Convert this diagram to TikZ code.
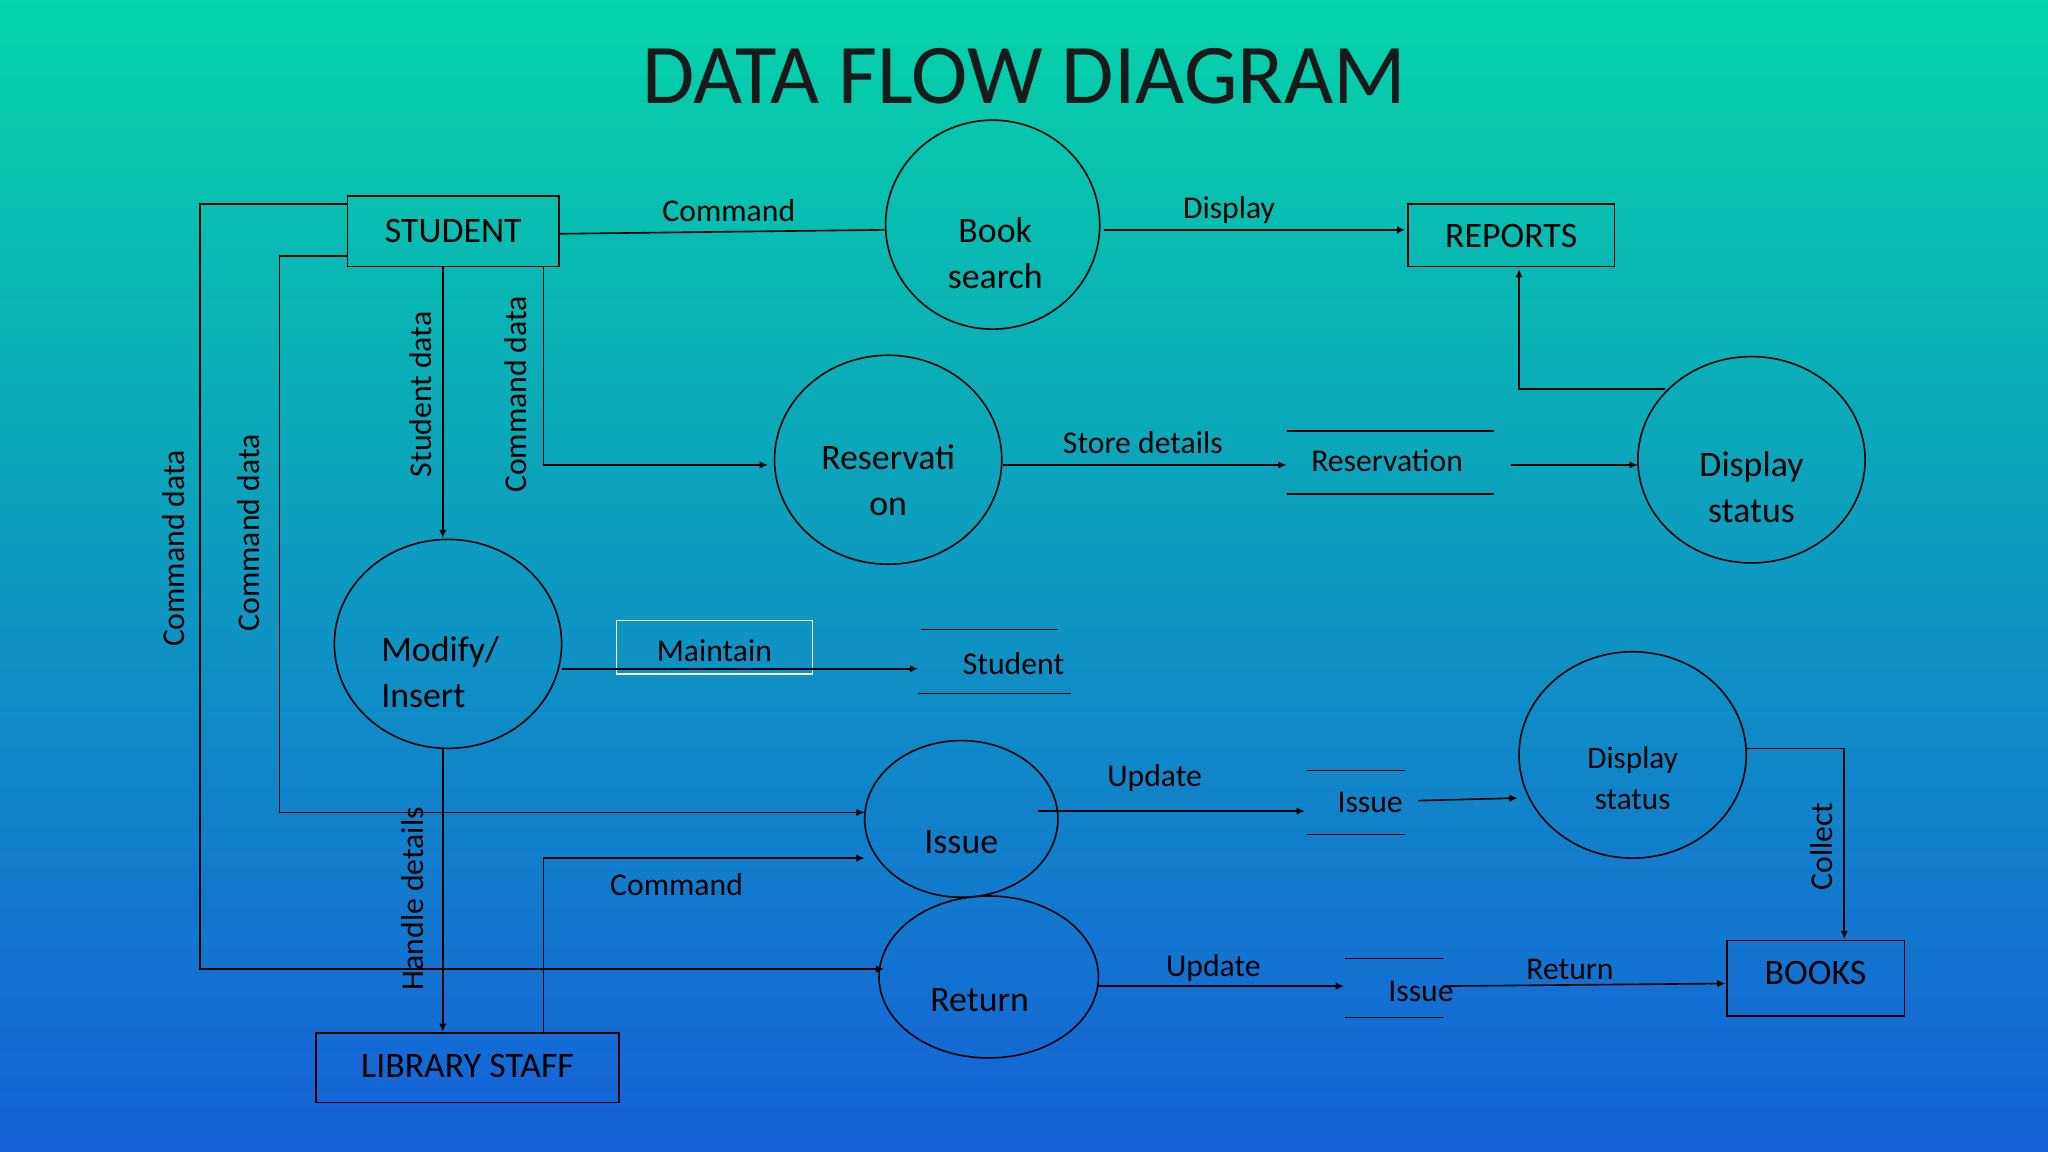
\documentclass[tikz,border=0pt]{standalone}
\usepackage{fontspec}
\setmainfont{Carlito}
\usetikzlibrary{arrows.meta}
\begin{document}
\begin{tikzpicture}[x=0.01cm,y=-0.01cm,line width=0.35pt,
  lbl/.style={font=\fontsize{6.9}{7.5}\selectfont,inner sep=0},
  ctext/.style={font=\fontsize{7.8}{10}\selectfont,align=center},
  proc/.style={draw,ellipse},
  arr/.style={-{Latex[length=1.8pt,width=1.6pt]}}]
\shade[top color={rgb,255:red,5;green,211;blue,168},middle color={rgb,255:red,30;green,200;blue,220},bottom color={rgb,255:red,22;green,96;blue,216}] (0,0) rectangle (1568,882);
\useasboundingbox (0,0) rectangle (1568,882);
\node[font=\fontsize{18.5}{22}\selectfont,text=black!90] (title) at (784,58) {DATA FLOW DIAGRAM};
% entities
\draw (266,150) rectangle (428,204); \node[ctext] (student) at (347,177) {STUDENT};
\draw (1078,156) rectangle (1236,204); \node[ctext] (reports) at (1157,181) {REPORTS};
\draw (1322,720) rectangle (1458,778); \node[ctext] (books) at (1390,745) {BOOKS};
\draw (242,791) rectangle (474,844); \node[ctext] (staff) at (358,816) {LIBRARY STAFF};
% processes
\draw (760,172) ellipse (82 and 80); \node[ctext] (bs) at (762,194) {Book\\search};
\draw (680,352) ellipse (87 and 80); \node[ctext] (res) at (680,368) {Reservati\\on};
\draw (1341,352) ellipse (87 and 79); \node[ctext] (ds) at (1341,373) {Display\\status};
\draw (343,493) ellipse (87 and 80); \node[ctext,align=left] (mod) at (337,515) {Modify/\\Insert};
\draw (736,627) ellipse (74 and 60); \node[ctext] (iss) at (736,645) {Issue};
\draw (1250,578) ellipse (87 and 79); \node[ctext,font=\fontsize{6.8}{9}\selectfont] (ds2) at (1250,596) {Display\\status};
\draw (757,748) ellipse (84 and 62); \node[ctext] (ret) at (750,766) {Return};
% stores
\draw (985,330) -- (1144,330) (985,378) -- (1144,378); \node[lbl] (rs) at (1062,353) {Reservation};
\draw (705,482) -- (810,482) (703,531) -- (820,531); \node[lbl] (ss) at (776,508) {Student};
\draw (1001,590) -- (1076,590) (1001,639) -- (1076,639); \node[lbl] (is1) at (1049,614) {Issue};
\draw (1030,734) -- (1105,734) (1030,779) -- (1105,779); \node[lbl] (is2) at (1088,759) {Issue};
\draw[white] (472,475) rectangle (622,516); \node[lbl] (mt) at (547,498) {Maintain};
% connectors
\draw (428,179) -- (677,176); \node[lbl] at (558,161) {Command};
\draw[arr] (845,176) -- (1076,176); \node[lbl] at (941,161) {Display};
\draw[arr] (1275,298) -- (1163,298) -- (1163,206);
\draw[arr] (339,204) -- (339,412); \node[lbl,rotate=90] at (322,302) {Student data};
\draw[arr] (416,204) -- (416,356) -- (588,356); \node[lbl,rotate=90] at (395,302) {Command data};
\draw[arr] (768,356) -- (985,356); \node[lbl] at (875,339) {Store details};
\draw[arr] (1157,356) -- (1254,356);
\draw[arr] (430,512) -- (703,512);
\draw[arr] (266,156) -- (153,156) -- (153,742) -- (677,742); \node[lbl,rotate=90] at (133,420) {Command data};
\draw[arr] (266,196) -- (214,196) -- (214,622) -- (662,622); \node[lbl,rotate=90] at (190,408) {Command data};
\draw[arr] (339,573) -- (339,790); \node[lbl,rotate=90] at (316,688) {Handle details};
\draw[arr] (416,791) -- (416,657) -- (662,657); \node[lbl] at (518,677) {Command};
\draw[arr] (795,621) -- (999,621); \node[lbl] at (884,596) {Update};
\draw[arr] (1086,613) -- (1162,611);
\draw[arr] (1337,573) -- (1412,573) -- (1412,719); \node[lbl,rotate=90] at (1395,648) {Collect};
\draw[arr] (841,755) -- (1029,755); \node[lbl] at (929,741) {Update};
\draw[arr] (1105,755) -- (1321,753); \node[lbl] at (1202,742) {Return};
\end{tikzpicture}
\end{document}
